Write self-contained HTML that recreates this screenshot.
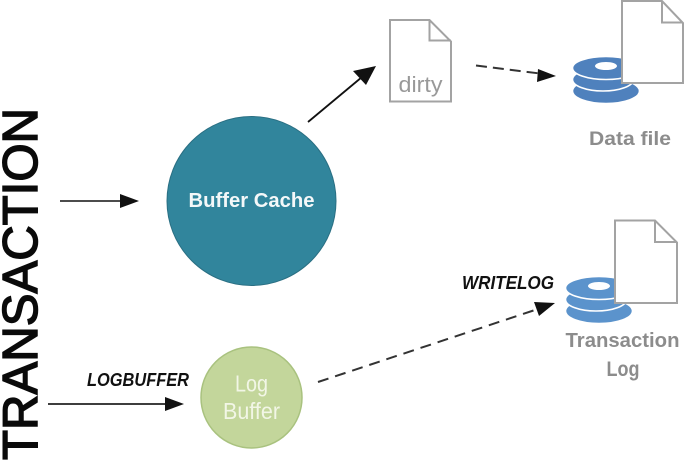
<!DOCTYPE html>
<html>
<head>
<meta charset="utf-8">
<style>
html,body{margin:0;padding:0;background:#fff;width:685px;height:465px;overflow:hidden}
svg{display:block;filter:blur(0.35px)}
text{font-family:"Liberation Sans",sans-serif}
</style>
</head>
<body>
<svg width="685" height="465" viewBox="0 0 685 465" xmlns="http://www.w3.org/2000/svg">
<defs>
<g id="disks" stroke="#fff" stroke-width="1.6">
  <ellipse cx="33" cy="34" rx="33.5" ry="12.5"/>
  <ellipse cx="30" cy="22.5" rx="30.5" ry="11.5"/>
  <ellipse cx="33" cy="11" rx="33.5" ry="11.5"/>
  <ellipse cx="33" cy="9" rx="11" ry="4" fill="#fff" stroke="none"/>
</g>
</defs>

<text transform="translate(37 460) rotate(-90)" font-size="49" textLength="352" lengthAdjust="spacingAndGlyphs" fill="#0a0a0a" stroke="#0a0a0a" stroke-width="1.5">TRANSACTION</text>

<circle cx="251.5" cy="201" r="84.5" fill="#31859c" stroke="#2a6f83" stroke-width="1"/>
<text x="251.5" y="207" font-size="20" font-weight="bold" fill="#f4f8f9" text-anchor="middle" textLength="126" lengthAdjust="spacingAndGlyphs">Buffer Cache</text>

<circle cx="251.5" cy="397.5" r="50.5" fill="#c3d69b" stroke="#a9c27f" stroke-width="1.5"/>
<text x="251.5" y="391.5" font-size="23" fill="#f2f6e6" text-anchor="middle" textLength="33" lengthAdjust="spacingAndGlyphs">Log</text>
<text x="251.5" y="419" font-size="23" fill="#f2f6e6" text-anchor="middle" textLength="57" lengthAdjust="spacingAndGlyphs">Buffer</text>

<!-- arrows -->
<line x1="60" y1="201" x2="122" y2="201" stroke="#111" stroke-width="1.6"/>
<polygon points="139,201 120,194 120,208" fill="#111"/>

<line x1="48" y1="404" x2="168" y2="404" stroke="#222" stroke-width="1.8"/>
<polygon points="184,404 165,397 165,411" fill="#111"/>

<line x1="308" y1="122" x2="362" y2="77" stroke="#111" stroke-width="1.8"/>
<polygon points="376,66 366,85 353,71" fill="#111"/>

<line x1="476" y1="65.5" x2="540" y2="73.5" stroke="#333" stroke-width="2" stroke-dasharray="11 6"/>
<polygon points="556,76 537,82 538,69" fill="#111"/>

<line x1="318" y1="382" x2="538" y2="309" stroke="#333" stroke-width="2" stroke-dasharray="11 7"/>
<polygon points="555,303 539,316 534,302" fill="#111"/>

<!-- dirty page -->
<path d="M390 20 H429.5 L451 41.5 V101.5 H390Z M429.5 20 V40.5 H451" fill="#fff" stroke="#a3a3a3" stroke-width="2"/>
<text x="420.5" y="92" font-size="22" fill="#999" text-anchor="middle" textLength="44" lengthAdjust="spacingAndGlyphs">dirty</text>

<!-- data file -->
<use href="#disks" x="573" y="57" fill="#4f81bd"/>
<path d="M622 1 H662 L683 23 V83 H622Z M662 1 V22.5 H683" fill="#fff" stroke="#a3a3a3" stroke-width="2"/>
<text x="630" y="145" font-size="19" font-weight="bold" fill="#8c8c8c" text-anchor="middle" textLength="82" lengthAdjust="spacingAndGlyphs">Data file</text>

<!-- transaction log -->
<use href="#disks" x="566" y="277" fill="#5b93cc"/>
<path d="M615 220.5 H655 L677 242.5 V303 H615Z M655 220.5 V242 H677" fill="#fff" stroke="#a3a3a3" stroke-width="2"/>
<text x="622.5" y="347" font-size="20" font-weight="bold" fill="#8c8c8c" text-anchor="middle" textLength="114" lengthAdjust="spacingAndGlyphs">Transaction</text>
<text x="623" y="376" font-size="21" font-weight="bold" fill="#8c8c8c" text-anchor="middle" textLength="33" lengthAdjust="spacingAndGlyphs">Log</text>

<text x="462" y="289" font-size="18" font-weight="bold" font-style="italic" fill="#111" textLength="92" lengthAdjust="spacingAndGlyphs">WRITELOG</text>
<text x="87" y="386" font-size="18" font-weight="bold" font-style="italic" fill="#111" textLength="102" lengthAdjust="spacingAndGlyphs">LOGBUFFER</text>
</svg>
</body>
</html>
